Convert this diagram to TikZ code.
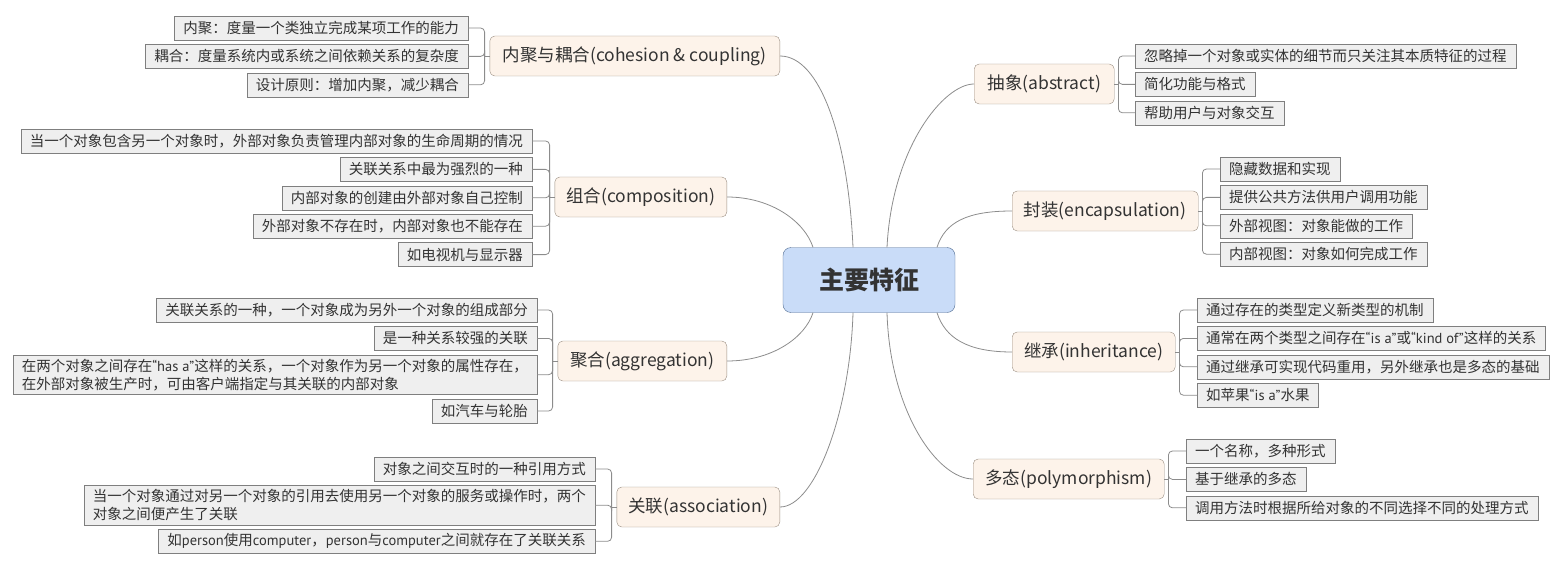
\documentclass[tikz,border=0pt]{standalone}
\usepackage{fontspec}
\setmainfont{Noto Sans CJK SC}
\newfontfamily\latinfont{PT Sans}
\newcommand\en[1]{{\latinfont #1}}
\usetikzlibrary{positioning}
\definecolor{topicfill}{HTML}{FDF3EA}
\definecolor{topicline}{HTML}{9A8E82}
\definecolor{leaffill}{HTML}{EFEFEF}
\definecolor{leafline}{HTML}{7F7F7F}
\definecolor{mainfill}{HTML}{C9DCF8}
\definecolor{mainline}{HTML}{4F6A8F}
\definecolor{linkgray}{HTML}{8C8C8C}
\definecolor{inkgray}{HTML}{333333}
\tikzset{
mainbox/.style={draw=mainline, fill=mainfill, rounded corners=8pt, minimum width=172pt, minimum height=65pt, text=inkgray, font=\fontsize{25}{30}\selectfont\bfseries}, % the central topic
topic/.style={draw=topicline, fill=topicfill, rounded corners=5pt, minimum height=40pt, inner xsep=10pt, text=inkgray, font=\fontsize{17.5}{21}\selectfont}, % the eight branches
leaf/.style={draw=leafline, fill=leaffill, minimum height=24pt, inner xsep=9pt, inner ysep=4pt, align=left, text=inkgray, font=\fontsize{14.5}{18}\selectfont}, % grey detail boxes
link/.style={draw=linkgray, line width=0.8pt}, % curves out of the centre
elbow/.style={draw=linkgray, line width=0.8pt, rounded corners=4pt}, % brackets to the details
}
\begin{document}
\begin{tikzpicture}[x=1pt, y=-1pt]
\useasboundingbox (0,0) rectangle (1565,572);
\node[mainbox] (main) at (869,280) {主要特征};

\node[topic, anchor=east, minimum width=290pt] (cohesion) at (780,56) {内聚与耦合(cohesion \& coupling)};
\node[topic, anchor=east, minimum width=172pt] (compo) at (727,197) {组合(composition)};
\node[topic, anchor=east, minimum width=169pt] (aggre) at (727,361) {聚合(aggregation)};
\node[topic, anchor=east, minimum width=163pt] (assoc) at (780,507) {关联(association)};
\node[topic, anchor=west, minimum width=140pt] (abstr) at (974,84) {抽象(abstract)};
\node[topic, anchor=west, minimum width=186pt] (encap) at (1012,211) {封装(encapsulation)};
\node[topic, anchor=west, minimum width=163pt] (inher) at (1012,352) {继承(inheritance)};
\node[topic, anchor=west, minimum width=191pt] (poly) at (973,479) {多态(polymorphism)};

\node[leaf, anchor=east] (coh1) at (468,28) {内聚：度量一个类独立完成某项工作的能力};
\node[leaf, below=4pt of coh1.south east, anchor=north east] (coh2) {耦合：度量系统内或系统之间依赖关系的复杂度};
\node[leaf, below=4pt of coh2.south east, anchor=north east] (coh3) {设计原则：增加内聚，减少耦合};

\node[leaf, anchor=east] (com1) at (532,141) {当一个对象包含另一个对象时，外部对象负责管理内部对象的生命周期的情况};
\node[leaf, below=4pt of com1.south east, anchor=north east] (com2) {关联关系中最为强烈的一种};
\node[leaf, below=4pt of com2.south east, anchor=north east] (com3) {内部对象的创建由外部对象自己控制};
\node[leaf, below=4pt of com3.south east, anchor=north east] (com4) {外部对象不存在时，内部对象也不能存在};
\node[leaf, below=4pt of com4.south east, anchor=north east] (com5) {如电视机与显示器};

\node[leaf, anchor=east] (agg1) at (537,310) {关联关系的一种，一个对象成为另外一个对象的组成部分};
\node[leaf, below=4pt of agg1.south east, anchor=north east] (agg2) {是一种关系较强的关联};
\node[leaf, below=4pt of agg2.south east, anchor=north east, minimum width=521pt] (agg3) {在两个对象之间存在\en{“has a”}这样的关系，一个对象作为另一个对象的属性存在，\\在外部对象被生产时，可由客户端指定与其关联的内部对象};
\node[leaf, below=4pt of agg3.south east, anchor=north east] (agg4) {如汽车与轮胎};

\node[leaf, anchor=east] (ass1) at (595,469) {对象之间交互时的一种引用方式};
\node[leaf, below=4pt of ass1.south east, anchor=north east] (ass2) {当一个对象通过对另一个对象的引用去使用另一个对象的服务或操作时，两个\\对象之间便产生了关联};
\node[leaf, below=4pt of ass2.south east, anchor=north east] (ass3) {如\en{person}使用\en{computer}，\en{person}与\en{computer}之间就存在了关联关系};

\node[leaf, anchor=west] (abs1) at (1135,56) {忽略掉一个对象或实体的细节而只关注其本质特征的过程};
\node[leaf, below=4pt of abs1.south west, anchor=north west] (abs2) {简化功能与格式};
\node[leaf, below=4pt of abs2.south west, anchor=north west] (abs3) {帮助用户与对象交互};

\node[leaf, anchor=west] (enc1) at (1220,169) {隐藏数据和实现};
\node[leaf, below=4pt of enc1.south west, anchor=north west] (enc2) {提供公共方法供用户调用功能};
\node[leaf, below=4pt of enc2.south west, anchor=north west] (enc3) {外部视图：对象能做的工作};
\node[leaf, below=4pt of enc3.south west, anchor=north west] (enc4) {内部视图：对象如何完成工作};

\node[leaf, anchor=west] (inh1) at (1197,310) {通过存在的类型定义新类型的机制};
\node[leaf, below=4pt of inh1.south west, anchor=north west] (inh2) {通常在两个类型之间存在\en{“is a”}或\en{“kind of”}这样的关系};
\node[leaf, below=4pt of inh2.south west, anchor=north west] (inh3) {通过继承可实现代码重用，另外继承也是多态的基础};
\node[leaf, below=4pt of inh3.south west, anchor=north west] (inh4) {如苹果\en{“is a”}水果};

\node[leaf, anchor=west] (pol1) at (1186,451) {一个名称，多种形式};
\node[leaf, below=4pt of pol1.south west, anchor=north west] (pol2) {基于继承的多态};
\node[leaf, below=4pt of pol2.south west, anchor=north west] (pol3) {调用方法时根据所给对象的不同选择不同的处理方式};

\draw[link] (cohesion.east) .. controls +(40,0) and +(-5,-110) .. ([xshift=-16pt]main.north);
\draw[link] (compo.east) .. controls +(45,0) and +(-8,-25) .. ([xshift=-56pt]main.north);
\draw[link] (aggre.east) .. controls +(45,0) and +(-8,25) .. ([xshift=-56pt]main.south);
\draw[link] (assoc.east) .. controls +(35,0) and +(-3,100) .. ([xshift=-16pt]main.south);
\draw[link] (abstr.west) .. controls +(-30,0) and +(5,-100) .. ([xshift=18pt]main.north);
\draw[link] (encap.west) .. controls +(-45,0) and +(8,-25) .. ([xshift=68pt]main.north);
\draw[link] (inher.west) .. controls +(-45,0) and +(8,25) .. ([xshift=68pt]main.south);
\draw[link] (poly.west) .. controls +(-35,0) and +(3,100) .. ([xshift=18pt]main.south);

\coordinate (cohb) at ([xshift=-5pt]cohesion.west);
\coordinate (comb) at ([xshift=-5pt]compo.west);
\coordinate (aggb) at ([xshift=-5pt]aggre.west);
\coordinate (assb) at ([xshift=-5pt]assoc.west);
\coordinate (absb) at ([xshift=4pt]abstr.east);
\coordinate (encb) at ([xshift=4pt]encap.east);
\coordinate (inhb) at ([xshift=4pt]inher.east);
\coordinate (polb) at ([xshift=4pt]poly.east);
\draw[elbow] (cohesion.west) -- (cohb) (compo.west) -- (comb) (aggre.west) -- (aggb) (assoc.west) -- (assb);
\draw[elbow] (abstr.east) -- (absb) (encap.east) -- (encb) (inher.east) -- (inhb) (poly.east) -- (polb);
\foreach \c in {coh1,coh2,coh3} \draw[elbow] (cohb) |- (\c.east);
\foreach \c in {com1,com2,com3,com4,com5} \draw[elbow] (comb) |- (\c.east);
\foreach \c in {agg1,agg2,agg3,agg4} \draw[elbow] (aggb) |- (\c.east);
\foreach \c in {ass1,ass2,ass3} \draw[elbow] (assb) |- (\c.east);
\foreach \c in {abs1,abs2,abs3} \draw[elbow] (absb) |- (\c.west);
\foreach \c in {enc1,enc2,enc3,enc4} \draw[elbow] (encb) |- (\c.west);
\foreach \c in {inh1,inh2,inh3,inh4} \draw[elbow] (inhb) |- (\c.west);
\foreach \c in {pol1,pol2,pol3} \draw[elbow] (polb) |- (\c.west);
\end{tikzpicture}
\end{document}
